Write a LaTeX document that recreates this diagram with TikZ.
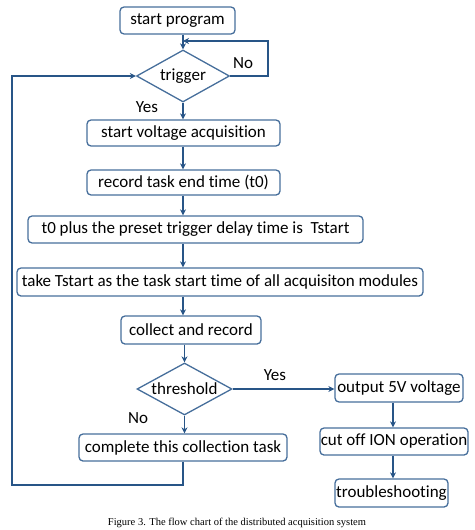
\documentclass[tikz,border=0pt]{standalone}
\usepackage{fontspec}
\setmainfont{Carlito}[Ligatures=NoCommon]
\newfontfamily\capfont{Liberation Serif}
\usetikzlibrary{shapes.geometric,arrows.meta}
\definecolor{boxc}{RGB}{70,110,155}
\definecolor{arrc}{RGB}{40,85,135}
\begin{document}
\begin{tikzpicture}[x=1pt,y=-1pt,
  txt/.style={font=\fontsize{17}{19}\selectfont,text=black},
  box/.style={txt,draw=boxc,line width=1.3pt,rounded corners=4pt,inner sep=0pt},
  dia/.style={txt,diamond,aspect=1.8,draw=boxc,line width=1.3pt,inner sep=0pt},
  arr/.style={draw=arrc,line width=1.8pt,-{Stealth[length=6pt,width=6pt]}},
  lbl/.style={txt}]
\useasboundingbox (0,0) rectangle (474,530);
\node[box,minimum width=115,minimum height=27] (start) at (177.5,20.5) {start program};
\node[dia,minimum width=93,minimum height=52] (trig) at (183,76) {trigger};
\node[box,minimum width=193,minimum height=26] (volt) at (183.5,133) {start voltage acquisition};
\node[box,minimum width=193,minimum height=25] (rec) at (183.5,182.5) {record task end time (t0)};
\node[box,minimum width=335,minimum height=27] (plus) at (195.5,229.5) {t0 plus the preset trigger delay time is\ \ Tstart};
\node[box,minimum width=406,minimum height=28] (take) at (220,282) {take Tstart as the task start time of all acquisiton modules};
\node[box,minimum width=140,minimum height=28] (coll) at (191,330) {collect and record};
\node[dia,minimum width=95,minimum height=52] (thr) at (184.5,389) {threshold};
\node[box,minimum width=208,minimum height=27] (done) at (183,447.5) {complete this collection task};
\node[box,minimum width=128,minimum height=28] (out) at (399,388) {output 5V voltage};
\node[box,minimum width=148,minimum height=27] (cut) at (394,441.5) {cut off ION operation};
\node[box,minimum width=113,minimum height=28] (trb) at (391.5,493) {troubleshooting};
\node[lbl] (no1) at (243,63) {No};
\node[lbl] (yes1) at (147,107) {Yes};
\node[lbl] (yes2) at (275,375) {Yes};
\node[lbl] (no2) at (138,418) {No};
\node[font=\capfont\fontsize{10.5}{12}\selectfont] (cap) at (237,523) {Figure 3. The flow chart of the distributed acquisition system};
\coordinate (nR) at (268,41);
\coordinate (lb) at (12,485);
\draw[arr] (start.south -| trig) -- (trig.north);
\draw[arr] (trig.east) -| (nR) -- (nR -| trig.north);
\draw[arr] (trig.south) -- (volt.north -| trig);
\draw[arr] (volt.south -| trig) -- (rec.north -| trig);
\draw[arr] (rec.south -| trig) -- (plus.north -| trig);
\draw[arr] (plus.south -| trig) -- (take.north -| trig);
\draw[arr] (take.south -| trig) -- (coll.north -| trig);
\draw[arr] (coll.south -| thr) -- (thr.north);
\draw[arr] (thr.south) -- (done.north -| thr);
\draw[arr] (thr.east) -- (thr.east -| out.west);
\draw[arr] (out.south -| 393,0) -- (cut.north -| 393,0);
\draw[arr] (cut.south -| 393,0) -- (trb.north -| 393,0);
\draw[arr] (done.south) |- (lb) |- (trig.west);
\end{tikzpicture}
\end{document}
